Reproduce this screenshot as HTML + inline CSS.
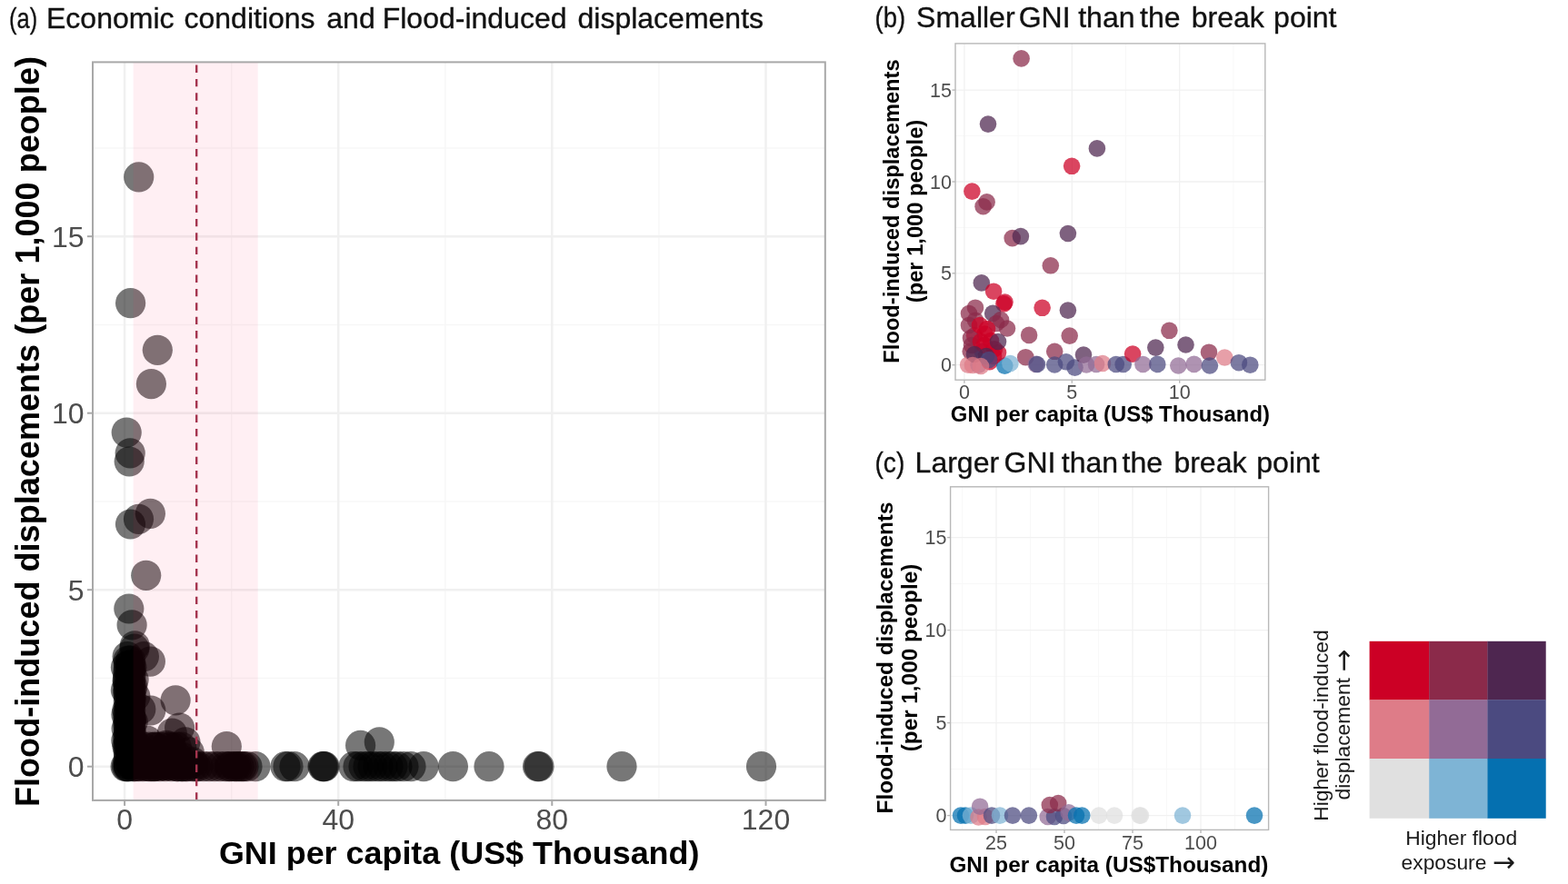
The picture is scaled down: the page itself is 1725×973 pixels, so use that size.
<!DOCTYPE html>
<html><head><meta charset="utf-8"><title>Economic conditions and Flood-induced displacements</title>
<style>
html,body{margin:0;padding:0;background:#fff;}
svg{display:block;}
text{font-family:"Liberation Sans",Arial,Helvetica,sans-serif;}
.t{font-size:32px;fill:#111;stroke:#111;stroke-width:0.35px;}
.ax{font-weight:bold;fill:#000;}
.tk{fill:#4d4d4d;}
</style></head><body>
<svg width="1725" height="973" viewBox="0 0 1725 973">
<rect width="1725" height="973" fill="#fff"/>
<text class="t" x="10.0" y="30.5" font-size="32.4" textLength="31.1" lengthAdjust="spacingAndGlyphs">(a)</text><text class="t" y="30.5" font-size="32.4"><tspan x="51.0">Economic</tspan> <tspan x="202.5">conditions</tspan> <tspan x="359.3">and</tspan> <tspan x="420.7">Flood-induced</tspan> <tspan x="635.5">displacements</tspan></text>
<line x1="254.7" y1="68.4" x2="254.7" y2="880.9" stroke="#f7f7f7" stroke-width="1.5"/>
<line x1="489.8" y1="68.4" x2="489.8" y2="880.9" stroke="#f7f7f7" stroke-width="1.5"/>
<line x1="724.9" y1="68.4" x2="724.9" y2="880.9" stroke="#f7f7f7" stroke-width="1.5"/>
<line x1="102" y1="746.5" x2="907.8" y2="746.5" stroke="#f7f7f7" stroke-width="1.5"/>
<line x1="102" y1="552" x2="907.8" y2="552" stroke="#f7f7f7" stroke-width="1.5"/>
<line x1="102" y1="357.5" x2="907.8" y2="357.5" stroke="#f7f7f7" stroke-width="1.5"/>
<line x1="102" y1="163" x2="907.8" y2="163" stroke="#f7f7f7" stroke-width="1.5"/>
<line x1="137.1" y1="68.4" x2="137.1" y2="880.9" stroke="#f0f0f0" stroke-width="2.5"/>
<line x1="372.2" y1="68.4" x2="372.2" y2="880.9" stroke="#f0f0f0" stroke-width="2.5"/>
<line x1="607.3" y1="68.4" x2="607.3" y2="880.9" stroke="#f0f0f0" stroke-width="2.5"/>
<line x1="842.5" y1="68.4" x2="842.5" y2="880.9" stroke="#f0f0f0" stroke-width="2.5"/>
<line x1="102" y1="843.7" x2="907.8" y2="843.7" stroke="#f0f0f0" stroke-width="2.5"/>
<line x1="102" y1="649.2" x2="907.8" y2="649.2" stroke="#f0f0f0" stroke-width="2.5"/>
<line x1="102" y1="454.7" x2="907.8" y2="454.7" stroke="#f0f0f0" stroke-width="2.5"/>
<line x1="102" y1="260.2" x2="907.8" y2="260.2" stroke="#f0f0f0" stroke-width="2.5"/>
<g fill="#000" fill-opacity="0.535">
<circle cx="152.7" cy="194.9" r="16.6"/>
<circle cx="143.6" cy="333.7" r="16.6"/>
<circle cx="173.3" cy="385.3" r="16.6"/>
<circle cx="166.4" cy="422.6" r="16.6"/>
<circle cx="139.2" cy="476.1" r="16.6"/>
<circle cx="143.2" cy="498.8" r="16.6"/>
<circle cx="142.2" cy="508" r="16.6"/>
<circle cx="143.5" cy="577" r="16.6"/>
<circle cx="152.5" cy="571.3" r="16.6"/>
<circle cx="165.4" cy="565.3" r="16.6"/>
<circle cx="160.7" cy="633.3" r="16.6"/>
<circle cx="141.8" cy="670" r="16.6"/>
<circle cx="145.1" cy="687.9" r="16.6"/>
<circle cx="148.2" cy="710.8" r="16.6"/>
<circle cx="140.1" cy="722.5" r="16.6"/>
<circle cx="147.9" cy="714.2" r="16.6"/>
<circle cx="158.4" cy="722.7" r="16.6"/>
<circle cx="165.4" cy="728.1" r="16.6"/>
<circle cx="144.9" cy="734.4" r="16.6"/>
<circle cx="140.1" cy="749.4" r="16.6"/>
<circle cx="148.8" cy="766.4" r="16.6"/>
<circle cx="154.8" cy="780.6" r="16.6"/>
<circle cx="165.8" cy="782" r="16.6"/>
<circle cx="139.9" cy="781.4" r="16.6"/>
<circle cx="142.7" cy="778.1" r="16.6"/>
<circle cx="138.8" cy="815" r="16.6"/>
<circle cx="142" cy="815" r="16.6"/>
<circle cx="145.3" cy="810" r="16.6"/>
<circle cx="138.1" cy="843.7" r="16.6"/>
<circle cx="141" cy="843.7" r="16.6"/>
<circle cx="144" cy="837" r="16.6"/>
<circle cx="148.1" cy="843.7" r="16.6"/>
<circle cx="149.6" cy="840.4" r="16.6"/>
<circle cx="138.4" cy="734.6" r="16.6"/>
<circle cx="138.4" cy="759.6" r="16.6"/>
<circle cx="138.9" cy="786.6" r="16.6"/>
<circle cx="139.1" cy="802" r="16.6"/>
<circle cx="147.1" cy="748.1" r="16.6"/>
<circle cx="145.8" cy="755.8" r="16.6"/>
<circle cx="141.3" cy="759.6" r="16.6"/>
<circle cx="143.3" cy="767.3" r="16.6"/>
<circle cx="141.6" cy="794.3" r="16.6"/>
<circle cx="144.3" cy="792.3" r="16.6"/>
<circle cx="146.3" cy="817.3" r="16.6"/>
<circle cx="145.1" cy="825" r="16.6"/>
<circle cx="142.6" cy="802" r="16.6"/>
<circle cx="139.9" cy="821.2" r="16.6"/>
<circle cx="143.1" cy="825" r="16.6"/>
<circle cx="146.3" cy="794.3" r="16.6"/>
<circle cx="143.8" cy="832.7" r="16.6"/>
<circle cx="139.4" cy="843.7" r="16.6"/>
<circle cx="141.6" cy="843.7" r="16.6"/>
<circle cx="153.8" cy="827.3" r="16.6"/>
<circle cx="156.7" cy="842" r="16.6"/>
<circle cx="157" cy="842.4" r="16.6"/>
<circle cx="161.7" cy="815" r="16.6"/>
<circle cx="161.7" cy="843.3" r="16.6"/>
<circle cx="164.9" cy="837.2" r="16.6"/>
<circle cx="167.3" cy="843.7" r="16.6"/>
<circle cx="169.6" cy="822.3" r="16.6"/>
<circle cx="170.4" cy="843.3" r="16.6"/>
<circle cx="173.1" cy="842.4" r="16.6"/>
<circle cx="174.9" cy="840.4" r="16.6"/>
<circle cx="178.5" cy="842.4" r="16.6"/>
<circle cx="180.5" cy="842.4" r="16.6"/>
<circle cx="183.1" cy="820.4" r="16.6"/>
<circle cx="185.9" cy="842.4" r="16.6"/>
<circle cx="189.3" cy="807" r="16.6"/>
<circle cx="189.8" cy="842.2" r="16.6"/>
<circle cx="193.1" cy="770.8" r="16.6"/>
<circle cx="195.5" cy="843.7" r="16.6"/>
<circle cx="197.6" cy="801" r="16.6"/>
<circle cx="199.8" cy="842.2" r="16.6"/>
<circle cx="203.9" cy="816.8" r="16.6"/>
<circle cx="204.1" cy="843.7" r="16.6"/>
<circle cx="208.2" cy="827.9" r="16.6"/>
<circle cx="212.1" cy="838.9" r="16.6"/>
<circle cx="215.1" cy="843.7" r="16.6"/>
<circle cx="252" cy="843.7" r="16.6"/>
<circle cx="258" cy="843.7" r="16.6"/>
<circle cx="263" cy="843.7" r="16.6"/>
<circle cx="268" cy="843.7" r="16.6"/>
<circle cx="281" cy="843.7" r="16.6"/>
<circle cx="314" cy="843.7" r="16.6"/>
<circle cx="317" cy="843.7" r="16.6"/>
<circle cx="324" cy="843.7" r="16.6"/>
<circle cx="355" cy="843.7" r="16.6"/>
<circle cx="356" cy="843.7" r="16.6"/>
<circle cx="357" cy="843.7" r="16.6"/>
<circle cx="389" cy="843.7" r="16.6"/>
<circle cx="394" cy="843.7" r="16.6"/>
<circle cx="400" cy="843.7" r="16.6"/>
<circle cx="405" cy="843.7" r="16.6"/>
<circle cx="410" cy="843.7" r="16.6"/>
<circle cx="416" cy="843.7" r="16.6"/>
<circle cx="421" cy="843.7" r="16.6"/>
<circle cx="427" cy="843.7" r="16.6"/>
<circle cx="432" cy="843.7" r="16.6"/>
<circle cx="437" cy="843.7" r="16.6"/>
<circle cx="444" cy="843.7" r="16.6"/>
<circle cx="452" cy="843.7" r="16.6"/>
<circle cx="466" cy="843.7" r="16.6"/>
<circle cx="498.4" cy="843.7" r="16.6"/>
<circle cx="538" cy="843.7" r="16.6"/>
<circle cx="591.5" cy="843.7" r="16.6"/>
<circle cx="593" cy="843.7" r="16.6"/>
<circle cx="684" cy="843.7" r="16.6"/>
<circle cx="837.5" cy="843.7" r="16.6"/>
<circle cx="396.6" cy="820.4" r="16.6"/>
<circle cx="417.3" cy="816.8" r="16.6"/>
<circle cx="249.3" cy="821.5" r="16.6"/>
<circle cx="141" cy="727" r="16.6"/>
<circle cx="143.6" cy="727" r="16.6"/>
<circle cx="141.4" cy="732" r="16.6"/>
<circle cx="143.5" cy="732" r="16.6"/>
<circle cx="141.2" cy="737" r="16.6"/>
<circle cx="143.8" cy="737" r="16.6"/>
<circle cx="140.7" cy="742" r="16.6"/>
<circle cx="144" cy="742" r="16.6"/>
<circle cx="140.6" cy="747" r="16.6"/>
<circle cx="143.9" cy="747" r="16.6"/>
<circle cx="140.7" cy="752" r="16.6"/>
<circle cx="143.5" cy="752" r="16.6"/>
<circle cx="141.1" cy="757" r="16.6"/>
<circle cx="144.4" cy="757" r="16.6"/>
<circle cx="140.7" cy="762" r="16.6"/>
<circle cx="143.7" cy="762" r="16.6"/>
<circle cx="141.4" cy="767" r="16.6"/>
<circle cx="144.5" cy="767" r="16.6"/>
<circle cx="141.3" cy="772" r="16.6"/>
<circle cx="143.9" cy="772" r="16.6"/>
<circle cx="141.8" cy="777" r="16.6"/>
<circle cx="143.5" cy="777" r="16.6"/>
<circle cx="141.6" cy="782" r="16.6"/>
<circle cx="143.7" cy="782" r="16.6"/>
<circle cx="140.8" cy="787" r="16.6"/>
<circle cx="143.5" cy="787" r="16.6"/>
<circle cx="141" cy="792" r="16.6"/>
<circle cx="144.4" cy="792" r="16.6"/>
<circle cx="140.8" cy="797" r="16.6"/>
<circle cx="144.1" cy="797" r="16.6"/>
<circle cx="141.4" cy="802" r="16.6"/>
<circle cx="143.8" cy="802" r="16.6"/>
<circle cx="141.3" cy="807" r="16.6"/>
<circle cx="143.5" cy="807" r="16.6"/>
<circle cx="140.7" cy="812" r="16.6"/>
<circle cx="143.6" cy="812" r="16.6"/>
<circle cx="141.4" cy="817" r="16.6"/>
<circle cx="143.9" cy="817" r="16.6"/>
<circle cx="141" cy="822" r="16.6"/>
<circle cx="144.1" cy="822" r="16.6"/>
<circle cx="141.1" cy="827" r="16.6"/>
<circle cx="143.8" cy="827" r="16.6"/>
<circle cx="141.6" cy="832" r="16.6"/>
<circle cx="144.2" cy="832" r="16.6"/>
<circle cx="140.9" cy="837" r="16.6"/>
<circle cx="144.1" cy="837" r="16.6"/>
<circle cx="141.2" cy="842" r="16.6"/>
<circle cx="144.5" cy="842" r="16.6"/>
<circle cx="146.5" cy="822" r="16.6"/>
<circle cx="145.6" cy="833" r="16.6"/>
<circle cx="147" cy="843.7" r="16.6"/>
<circle cx="151.2" cy="822" r="16.6"/>
<circle cx="151.8" cy="833" r="16.6"/>
<circle cx="152.5" cy="843.7" r="16.6"/>
<circle cx="157.3" cy="822" r="16.6"/>
<circle cx="158" cy="833" r="16.6"/>
<circle cx="157.1" cy="843.7" r="16.6"/>
<circle cx="164.3" cy="822" r="16.6"/>
<circle cx="164.5" cy="833" r="16.6"/>
<circle cx="164.1" cy="843.7" r="16.6"/>
<circle cx="170.8" cy="822" r="16.6"/>
<circle cx="169.6" cy="833" r="16.6"/>
<circle cx="170.4" cy="843.7" r="16.6"/>
<circle cx="176.2" cy="822" r="16.6"/>
<circle cx="176.2" cy="833" r="16.6"/>
<circle cx="175.9" cy="843.7" r="16.6"/>
<circle cx="182.7" cy="822" r="16.6"/>
<circle cx="182.9" cy="833" r="16.6"/>
<circle cx="181.9" cy="843.7" r="16.6"/>
<circle cx="188.3" cy="822" r="16.6"/>
<circle cx="187.1" cy="833" r="16.6"/>
<circle cx="188.4" cy="843.7" r="16.6"/>
<circle cx="194.3" cy="822" r="16.6"/>
<circle cx="195" cy="833" r="16.6"/>
<circle cx="194.6" cy="843.7" r="16.6"/>
<circle cx="199.6" cy="822" r="16.6"/>
<circle cx="199.8" cy="833" r="16.6"/>
<circle cx="200.3" cy="843.7" r="16.6"/>
<circle cx="200" cy="843.7" r="16.6"/>
<circle cx="206" cy="843.7" r="16.6"/>
<circle cx="212" cy="843.7" r="16.6"/>
<circle cx="218" cy="843.7" r="16.6"/>
<circle cx="224" cy="843.7" r="16.6"/>
<circle cx="230" cy="843.7" r="16.6"/>
<circle cx="236" cy="843.7" r="16.6"/>
<circle cx="242" cy="843.7" r="16.6"/>
<circle cx="248" cy="843.7" r="16.6"/>
<circle cx="254" cy="843.7" r="16.6"/>
<circle cx="260" cy="843.7" r="16.6"/>
<circle cx="266" cy="843.7" r="16.6"/>
<circle cx="272" cy="843.7" r="16.6"/>
</g>
<rect x="146.6" y="68.4" width="137.1" height="812.5" fill="#ff1446" fill-opacity="0.065"/>
<line x1="216.2" y1="69.4" x2="216.2" y2="879.9" stroke="#a5344e" stroke-width="2.4" stroke-dasharray="8.4 7" stroke-dashoffset="-2.1"/>
<rect x="102" y="68.4" width="805.8" height="812.5" fill="none" stroke="#a8a8a8" stroke-width="2"/>
<line x1="137.1" y1="880.9" x2="137.1" y2="886.9" stroke="#a8a8a8" stroke-width="2"/>
<text class="tk" x="137.1" y="913.4" font-size="32" text-anchor="middle">0</text>
<line x1="372.2" y1="880.9" x2="372.2" y2="886.9" stroke="#a8a8a8" stroke-width="2"/>
<text class="tk" x="372.2" y="913.4" font-size="32" text-anchor="middle">40</text>
<line x1="607.3" y1="880.9" x2="607.3" y2="886.9" stroke="#a8a8a8" stroke-width="2"/>
<text class="tk" x="607.3" y="913.4" font-size="32" text-anchor="middle">80</text>
<line x1="842.5" y1="880.9" x2="842.5" y2="886.9" stroke="#a8a8a8" stroke-width="2"/>
<text class="tk" x="842.5" y="913.4" font-size="32" text-anchor="middle">120</text>
<line x1="96" y1="843.7" x2="102" y2="843.7" stroke="#a8a8a8" stroke-width="2"/>
<text class="tk" x="92.6" y="855" font-size="32" text-anchor="end">0</text>
<line x1="96" y1="649.2" x2="102" y2="649.2" stroke="#a8a8a8" stroke-width="2"/>
<text class="tk" x="92.6" y="660.5" font-size="32" text-anchor="end">5</text>
<line x1="96" y1="454.7" x2="102" y2="454.7" stroke="#a8a8a8" stroke-width="2"/>
<text class="tk" x="92.6" y="466" font-size="32" text-anchor="end">10</text>
<line x1="96" y1="260.2" x2="102" y2="260.2" stroke="#a8a8a8" stroke-width="2"/>
<text class="tk" x="92.6" y="271.5" font-size="32" text-anchor="end">15</text>
<text class="ax" x="505.2" y="950.8" font-size="35.9" text-anchor="middle">GNI per capita (US$ Thousand)</text>
<text class="ax" transform="translate(43.3,475) rotate(-90)" x="0" y="0" font-size="36.1" text-anchor="middle">Flood-induced displacements (per 1,000 people)</text>
<text class="t" x="962.6" y="30.2" font-size="30.6" textLength="33.5" lengthAdjust="spacingAndGlyphs">(b)</text><text class="t" y="30.2" font-size="30.6"><tspan x="1008.1">Smaller</tspan> <tspan x="1120.7">GNI</tspan> <tspan x="1186.2">than</tspan> <tspan x="1254.1">the</tspan> <tspan x="1310.8">break</tspan> <tspan x="1401.1">point</tspan></text>
<line x1="1120.1" y1="47.9" x2="1120.1" y2="418.2" stroke="#f8f8f8" stroke-width="1"/>
<line x1="1238.5" y1="47.9" x2="1238.5" y2="418.2" stroke="#f8f8f8" stroke-width="1"/>
<line x1="1356.9" y1="47.9" x2="1356.9" y2="418.2" stroke="#f8f8f8" stroke-width="1"/>
<line x1="1051" y1="351.3" x2="1391.8" y2="351.3" stroke="#f8f8f8" stroke-width="1"/>
<line x1="1051" y1="250.4" x2="1391.8" y2="250.4" stroke="#f8f8f8" stroke-width="1"/>
<line x1="1051" y1="149.6" x2="1391.8" y2="149.6" stroke="#f8f8f8" stroke-width="1"/>
<line x1="1060.9" y1="47.9" x2="1060.9" y2="418.2" stroke="#f1f1f1" stroke-width="1.3"/>
<line x1="1179.3" y1="47.9" x2="1179.3" y2="418.2" stroke="#f1f1f1" stroke-width="1.3"/>
<line x1="1297.7" y1="47.9" x2="1297.7" y2="418.2" stroke="#f1f1f1" stroke-width="1.3"/>
<line x1="1051" y1="401.7" x2="1391.8" y2="401.7" stroke="#f1f1f1" stroke-width="1.3"/>
<line x1="1051" y1="300.8" x2="1391.8" y2="300.8" stroke="#f1f1f1" stroke-width="1.3"/>
<line x1="1051" y1="200" x2="1391.8" y2="200" stroke="#f1f1f1" stroke-width="1.3"/>
<line x1="1051" y1="99.1" x2="1391.8" y2="99.1" stroke="#f1f1f1" stroke-width="1.3"/>
<g fill-opacity="0.73">
<circle cx="1123.6" cy="64.4" r="9.3" fill="#8B2A4A"/>
<circle cx="1087" cy="136.6" r="9.3" fill="#4E2650"/>
<circle cx="1206.9" cy="163.4" r="9.3" fill="#4E2650"/>
<circle cx="1179.1" cy="182.8" r="9.3" fill="#CC0025"/>
<circle cx="1069.4" cy="210.6" r="9.3" fill="#CC0025"/>
<circle cx="1085.6" cy="222.4" r="9.3" fill="#8B2A4A"/>
<circle cx="1081.6" cy="227.2" r="9.3" fill="#8B2A4A"/>
<circle cx="1113.7" cy="262.1" r="9.3" fill="#8B2A4A"/>
<circle cx="1122.9" cy="260.1" r="9.3" fill="#4E2650"/>
<circle cx="1174.9" cy="257" r="9.3" fill="#4E2650"/>
<circle cx="1155.8" cy="292.3" r="9.3" fill="#8B2A4A"/>
<circle cx="1079.8" cy="311.4" r="9.3" fill="#4E2650"/>
<circle cx="1093.1" cy="320.7" r="9.3" fill="#CC0025"/>
<circle cx="1105.5" cy="332.6" r="9.3" fill="#CC0025"/>
<circle cx="1073" cy="338.7" r="9.3" fill="#8B2A4A"/>
<circle cx="1104.4" cy="334.4" r="9.3" fill="#CC0025"/>
<circle cx="1146.6" cy="338.8" r="9.3" fill="#CC0025"/>
<circle cx="1174.9" cy="341.6" r="9.3" fill="#4E2650"/>
<circle cx="1092.2" cy="344.9" r="9.3" fill="#4E2650"/>
<circle cx="1073" cy="352.7" r="9.3" fill="#8B2A4A"/>
<circle cx="1108" cy="361.5" r="9.3" fill="#8B2A4A"/>
<circle cx="1132.1" cy="368.9" r="9.3" fill="#8B2A4A"/>
<circle cx="1176.7" cy="369.6" r="9.3" fill="#8B2A4A"/>
<circle cx="1072.1" cy="369.3" r="9.3" fill="#CC0025"/>
<circle cx="1083.5" cy="367.6" r="9.3" fill="#CC0025"/>
<circle cx="1067.7" cy="386.8" r="9.3" fill="#8B2A4A"/>
<circle cx="1080.8" cy="386.8" r="9.3" fill="#4B4A80"/>
<circle cx="1094" cy="384.2" r="9.3" fill="#CC0025"/>
<circle cx="1065.1" cy="401.7" r="9.3" fill="#DE7C88"/>
<circle cx="1076.5" cy="401.7" r="9.3" fill="#926B96"/>
<circle cx="1088.7" cy="398.2" r="9.3" fill="#CC0025"/>
<circle cx="1105.3" cy="402.6" r="9.3" fill="#0570B0"/>
<circle cx="1111.4" cy="400" r="9.3" fill="#7EB4D5"/>
<circle cx="1066" cy="345" r="9.3" fill="#8B2A4A"/>
<circle cx="1066" cy="358" r="9.3" fill="#8B2A4A"/>
<circle cx="1068" cy="372" r="9.3" fill="#8B2A4A"/>
<circle cx="1069" cy="380" r="9.3" fill="#8B2A4A"/>
<circle cx="1101" cy="352" r="9.3" fill="#8B2A4A"/>
<circle cx="1096" cy="356" r="9.3" fill="#8B2A4A"/>
<circle cx="1078" cy="358" r="9.3" fill="#CC0025"/>
<circle cx="1086" cy="362" r="9.3" fill="#CC0025"/>
<circle cx="1079" cy="376" r="9.3" fill="#CC0025"/>
<circle cx="1090" cy="375" r="9.3" fill="#CC0025"/>
<circle cx="1098" cy="388" r="9.3" fill="#CC0025"/>
<circle cx="1093" cy="392" r="9.3" fill="#CC0025"/>
<circle cx="1083" cy="380" r="9.3" fill="#CC0025"/>
<circle cx="1072" cy="390" r="9.3" fill="#4E2650"/>
<circle cx="1085" cy="392" r="9.3" fill="#4E2650"/>
<circle cx="1098" cy="376" r="9.3" fill="#4E2650"/>
<circle cx="1088" cy="396" r="9.3" fill="#4B4A80"/>
<circle cx="1070" cy="402" r="9.3" fill="#DE7C88"/>
<circle cx="1079" cy="403" r="9.3" fill="#DE7C88"/>
<circle cx="1128.3" cy="393.2" r="9.3" fill="#8B2A4A"/>
<circle cx="1139.7" cy="400.8" r="9.3" fill="#926B96"/>
<circle cx="1141" cy="401" r="9.3" fill="#4B4A80"/>
<circle cx="1160.2" cy="386.8" r="9.3" fill="#8B2A4A"/>
<circle cx="1160.2" cy="401.5" r="9.3" fill="#4B4A80"/>
<circle cx="1172.9" cy="398.3" r="9.3" fill="#4B4A80"/>
<circle cx="1182.5" cy="404.6" r="9.3" fill="#4B4A80"/>
<circle cx="1192" cy="390.6" r="9.3" fill="#4E2650"/>
<circle cx="1195.2" cy="401.5" r="9.3" fill="#926B96"/>
<circle cx="1206" cy="401" r="9.3" fill="#926B96"/>
<circle cx="1213" cy="400" r="9.3" fill="#DE7C88"/>
<circle cx="1227.8" cy="401" r="9.3" fill="#4B4A80"/>
<circle cx="1235.7" cy="401" r="9.3" fill="#4B4A80"/>
<circle cx="1246.1" cy="389.6" r="9.3" fill="#CC0025"/>
<circle cx="1257.4" cy="401" r="9.3" fill="#926B96"/>
<circle cx="1271.3" cy="382.6" r="9.3" fill="#4E2650"/>
<circle cx="1273.3" cy="400.9" r="9.3" fill="#4B4A80"/>
<circle cx="1286.4" cy="363.8" r="9.3" fill="#8B2A4A"/>
<circle cx="1296.3" cy="402.5" r="9.3" fill="#926B96"/>
<circle cx="1304.5" cy="379.5" r="9.3" fill="#4E2650"/>
<circle cx="1313.6" cy="400.9" r="9.3" fill="#926B96"/>
<circle cx="1330" cy="387.7" r="9.3" fill="#8B2A4A"/>
<circle cx="1330.9" cy="402.5" r="9.3" fill="#4B4A80"/>
<circle cx="1347.3" cy="393.5" r="9.3" fill="#DE7C88"/>
<circle cx="1362.9" cy="399.2" r="9.3" fill="#4B4A80"/>
<circle cx="1375.3" cy="401.7" r="9.3" fill="#4B4A80"/>
</g>
<rect x="1051" y="47.9" width="340.79999999999995" height="370.3" fill="none" stroke="#b8b8b8" stroke-width="1.4"/>
<line x1="1060.9" y1="418.2" x2="1060.9" y2="421.7" stroke="#b8b8b8" stroke-width="1.4"/>
<text class="tk" x="1060.9" y="438.6" font-size="21.5" text-anchor="middle">0</text>
<line x1="1179.3" y1="418.2" x2="1179.3" y2="421.7" stroke="#b8b8b8" stroke-width="1.4"/>
<text class="tk" x="1179.3" y="438.6" font-size="21.5" text-anchor="middle">5</text>
<line x1="1297.7" y1="418.2" x2="1297.7" y2="421.7" stroke="#b8b8b8" stroke-width="1.4"/>
<text class="tk" x="1297.7" y="438.6" font-size="21.5" text-anchor="middle">10</text>
<line x1="1047.5" y1="401.7" x2="1051" y2="401.7" stroke="#b8b8b8" stroke-width="1.4"/>
<text class="tk" x="1047" y="409.3" font-size="21.5" text-anchor="end">0</text>
<line x1="1047.5" y1="300.8" x2="1051" y2="300.8" stroke="#b8b8b8" stroke-width="1.4"/>
<text class="tk" x="1047" y="308.4" font-size="21.5" text-anchor="end">5</text>
<line x1="1047.5" y1="200" x2="1051" y2="200" stroke="#b8b8b8" stroke-width="1.4"/>
<text class="tk" x="1047" y="207.6" font-size="21.5" text-anchor="end">10</text>
<line x1="1047.5" y1="99.1" x2="1051" y2="99.1" stroke="#b8b8b8" stroke-width="1.4"/>
<text class="tk" x="1047" y="106.7" font-size="21.5" text-anchor="end">15</text>
<text class="ax" x="1221.4" y="463.5" font-size="23.85" text-anchor="middle">GNI per capita (US$ Thousand)</text>
<text class="ax" transform="translate(989,232.5) rotate(-90)" font-size="23.7" text-anchor="middle">Flood-induced displacements</text>
<text class="ax" transform="translate(1014.6,232.5) rotate(-90)" font-size="23.7" text-anchor="middle">(per 1,000 people)</text>
<text class="t" x="962.5" y="520.1" font-size="30.6" textLength="32.8" lengthAdjust="spacingAndGlyphs">(c)</text><text class="t" y="520.1" font-size="30.6"><tspan x="1006.6">Larger</tspan> <tspan x="1104.6">GNI</tspan> <tspan x="1167.8">than</tspan> <tspan x="1234.5">the</tspan> <tspan x="1291.4">break</tspan> <tspan x="1382.3">point</tspan></text>
<line x1="1058.5" y1="535.8" x2="1058.5" y2="913.4" stroke="#f8f8f8" stroke-width="1"/>
<line x1="1133.5" y1="535.8" x2="1133.5" y2="913.4" stroke="#f8f8f8" stroke-width="1"/>
<line x1="1208.5" y1="535.8" x2="1208.5" y2="913.4" stroke="#f8f8f8" stroke-width="1"/>
<line x1="1283.5" y1="535.8" x2="1283.5" y2="913.4" stroke="#f8f8f8" stroke-width="1"/>
<line x1="1358.5" y1="535.8" x2="1358.5" y2="913.4" stroke="#f8f8f8" stroke-width="1"/>
<line x1="1045.6" y1="846.6" x2="1395.6" y2="846.6" stroke="#f8f8f8" stroke-width="1"/>
<line x1="1045.6" y1="744.6" x2="1395.6" y2="744.6" stroke="#f8f8f8" stroke-width="1"/>
<line x1="1045.6" y1="642.6" x2="1395.6" y2="642.6" stroke="#f8f8f8" stroke-width="1"/>
<line x1="1096" y1="535.8" x2="1096" y2="913.4" stroke="#f1f1f1" stroke-width="1.3"/>
<line x1="1171" y1="535.8" x2="1171" y2="913.4" stroke="#f1f1f1" stroke-width="1.3"/>
<line x1="1246" y1="535.8" x2="1246" y2="913.4" stroke="#f1f1f1" stroke-width="1.3"/>
<line x1="1321" y1="535.8" x2="1321" y2="913.4" stroke="#f1f1f1" stroke-width="1.3"/>
<line x1="1045.6" y1="897.6" x2="1395.6" y2="897.6" stroke="#f1f1f1" stroke-width="1.3"/>
<line x1="1045.6" y1="795.6" x2="1395.6" y2="795.6" stroke="#f1f1f1" stroke-width="1.3"/>
<line x1="1045.6" y1="693.6" x2="1395.6" y2="693.6" stroke="#f1f1f1" stroke-width="1.3"/>
<line x1="1045.6" y1="591.6" x2="1395.6" y2="591.6" stroke="#f1f1f1" stroke-width="1.3"/>
<g fill-opacity="0.73">
<circle cx="1057" cy="897.6" r="9.3" fill="#0570B0"/>
<circle cx="1062" cy="897.6" r="9.3" fill="#0570B0"/>
<circle cx="1068" cy="897.6" r="9.3" fill="#7EB4D5"/>
<circle cx="1076.5" cy="899.5" r="9.3" fill="#DE7C88"/>
<circle cx="1084" cy="899" r="9.3" fill="#DE7C88"/>
<circle cx="1078.1" cy="887.7" r="9.3" fill="#926B96"/>
<circle cx="1091" cy="897.6" r="9.3" fill="#4B4A80"/>
<circle cx="1100" cy="897.6" r="9.3" fill="#7EB4D5"/>
<circle cx="1114" cy="897.6" r="9.3" fill="#4B4A80"/>
<circle cx="1131.9" cy="897.6" r="9.3" fill="#4B4A80"/>
<circle cx="1152.7" cy="899" r="9.3" fill="#926B96"/>
<circle cx="1160" cy="899" r="9.3" fill="#4B4A80"/>
<circle cx="1170" cy="898" r="9.3" fill="#4B4A80"/>
<circle cx="1154.8" cy="886" r="9.3" fill="#8B2A4A"/>
<circle cx="1164.2" cy="884" r="9.3" fill="#8B2A4A"/>
<circle cx="1175.7" cy="894.4" r="9.3" fill="#926B96"/>
<circle cx="1184" cy="897.6" r="9.3" fill="#0570B0"/>
<circle cx="1190.3" cy="897.6" r="9.3" fill="#0570B0"/>
<circle cx="1209" cy="897.6" r="9.3" fill="#E0E0E0"/>
<circle cx="1226" cy="897.6" r="9.3" fill="#E0E0E0"/>
<circle cx="1253.6" cy="897.6" r="9.3" fill="#E0E0E0"/>
<circle cx="1255" cy="897.6" r="9.3" fill="#E0E0E0"/>
<circle cx="1301" cy="897.6" r="9.3" fill="#7EB4D5"/>
<circle cx="1380" cy="897.6" r="9.3" fill="#0570B0"/>
</g>
<rect x="1045.6" y="535.8" width="350.0" height="377.6" fill="none" stroke="#b8b8b8" stroke-width="1.4"/>
<line x1="1096" y1="913.4" x2="1096" y2="916.9" stroke="#b8b8b8" stroke-width="1.4"/>
<text class="tk" x="1096" y="935" font-size="21.5" text-anchor="middle">25</text>
<line x1="1171" y1="913.4" x2="1171" y2="916.9" stroke="#b8b8b8" stroke-width="1.4"/>
<text class="tk" x="1171" y="935" font-size="21.5" text-anchor="middle">50</text>
<line x1="1246" y1="913.4" x2="1246" y2="916.9" stroke="#b8b8b8" stroke-width="1.4"/>
<text class="tk" x="1246" y="935" font-size="21.5" text-anchor="middle">75</text>
<line x1="1321" y1="913.4" x2="1321" y2="916.9" stroke="#b8b8b8" stroke-width="1.4"/>
<text class="tk" x="1321" y="935" font-size="21.5" text-anchor="middle">100</text>
<line x1="1042.1" y1="897.6" x2="1045.6" y2="897.6" stroke="#b8b8b8" stroke-width="1.4"/>
<text class="tk" x="1041.5" y="905.2" font-size="21.5" text-anchor="end">0</text>
<line x1="1042.1" y1="795.6" x2="1045.6" y2="795.6" stroke="#b8b8b8" stroke-width="1.4"/>
<text class="tk" x="1041.5" y="803.2" font-size="21.5" text-anchor="end">5</text>
<line x1="1042.1" y1="693.6" x2="1045.6" y2="693.6" stroke="#b8b8b8" stroke-width="1.4"/>
<text class="tk" x="1041.5" y="701.2" font-size="21.5" text-anchor="end">10</text>
<line x1="1042.1" y1="591.6" x2="1045.6" y2="591.6" stroke="#b8b8b8" stroke-width="1.4"/>
<text class="tk" x="1041.5" y="599.2" font-size="21.5" text-anchor="end">15</text>
<text class="ax" x="1219.9" y="959.6" font-size="24.3" text-anchor="middle">GNI per capita (US$Thousand)</text>
<text class="ax" transform="translate(982.4,724) rotate(-90)" font-size="24.3" text-anchor="middle">Flood-induced displacements</text>
<text class="ax" transform="translate(1008.6,724) rotate(-90)" font-size="24.3" text-anchor="middle">(per 1,000 people)</text>
<rect x="1506.6" y="705.8" width="65.9" height="64.7" fill="#CC0025"/>
<rect x="1572.2" y="705.8" width="64.5" height="64.7" fill="#8B2A4A"/>
<rect x="1636.4" y="705.8" width="64.3" height="64.7" fill="#4E2650"/>
<rect x="1506.6" y="770.2" width="65.9" height="65.1" fill="#DE7C88"/>
<rect x="1572.2" y="770.2" width="64.5" height="65.1" fill="#926B96"/>
<rect x="1636.4" y="770.2" width="64.3" height="65.1" fill="#4B4A80"/>
<rect x="1506.6" y="835.0" width="65.9" height="65.8" fill="#E0E0E0"/>
<rect x="1572.2" y="835.0" width="64.5" height="65.8" fill="#7EB4D5"/>
<rect x="1636.4" y="835.0" width="64.3" height="65.8" fill="#0570B0"/>
<text x="1607.7" y="930.1" font-size="22.8" fill="#1a1a1a" text-anchor="middle">Higher flood</text>
<text x="1604.2" y="956.6" font-size="22.8" fill="#1a1a1a" text-anchor="middle">exposure <tspan dy="2.5" style="font-family:&quot;DejaVu Sans&quot;,sans-serif;font-size:30px">→</tspan></text>
<text transform="translate(1460.5,798.5) rotate(-90)" font-size="22.8" fill="#1a1a1a" text-anchor="middle">Higher flood-induced</text>
<text transform="translate(1485.4,797.5) rotate(-90)" font-size="22.8" fill="#1a1a1a" text-anchor="middle">displacement <tspan dy="2.5" style="font-family:&quot;DejaVu Sans&quot;,sans-serif;font-size:30px">→</tspan></text>
</svg></body></html>
